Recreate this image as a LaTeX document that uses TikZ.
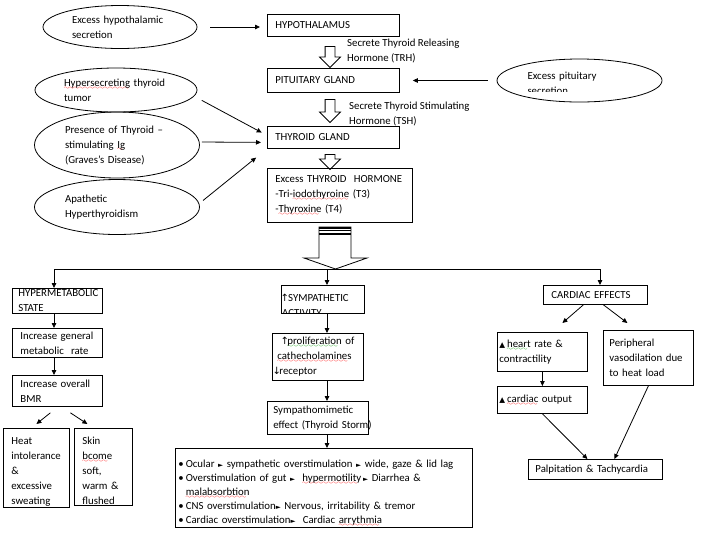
\documentclass[tikz,border=0pt]{standalone}
\usepackage{fontspec}
\setmainfont{Carlito}
\newfontfamily\sym{DejaVu Sans}
\usetikzlibrary{arrows.meta}
\usetikzlibrary{shapes}
\usetikzlibrary{positioning}
\hyphenpenalty=10000
\exhyphenpenalty=10000

% wavy spell-check underline
\font\wavefont=lasy6
\newsavebox\spellbox
\newcommand\spell[2][red]{\leavevmode\sbox\spellbox{#2}\rlap{\textcolor{#1}{\lower2.8pt\hbox to\wd\spellbox{\leaders\hbox{\wavefont\char58}\hfill}}}\usebox\spellbox}
\newcommand\trisym{{\sym\fontsize{7.5}{7.5}\selectfont ▲}}
\newcommand\ptrsym{{\sym\fontsize{6.5}{6.5}\selectfont ►}}
\newcommand\uarr{\makebox[5pt]{\sym\fontsize{10}{10}\selectfont ↑}}
\newcommand\darr{\makebox[5pt]{\sym\fontsize{10}{10}\selectfont ↓}}

\tikzset{
  box/.style={draw, line width=0.8pt, anchor=north west, align=left, inner xsep=8pt, inner ysep=1pt},
  oval/.style={ellipse, draw, line width=0.8pt, inner sep=0pt, align=left, text width=104pt},
  arr/.style={-{Triangle[length=5pt,width=4.5pt]}, line width=0.8pt},
  hollow/.style={single arrow, draw, line width=0.8pt, shape border rotate=270, inner sep=4.5pt, single arrow head extend=5.5pt, minimum height=#1},
}

\begin{document}
\begin{tikzpicture}[x=1pt, y=-1pt, font=\fontsize{10.8}{15}\selectfont]
    \useasboundingbox (0,0) rectangle (703,542);

    % causes
    \node[oval, text width=96pt, minimum width=154pt, minimum height=43pt] (exhyp) at (120,27) {Excess hypothalamic\\secretion};
    \node[oval, minimum width=162pt, minimum height=44pt] (tumor) at (116,90) {\spell{Hypersecreting}~thyroid\\tumor};
    \node[oval, minimum width=165pt, minimum height=66pt] (graves) at (117,145) {Presence~of~Thyroid~–\\stimulating \spell{Ig}\\(Graves’s Disease)};
    \node[oval, minimum width=165pt, minimum height=55pt] (apath) at (117,207) {Apathetic\\Hyperthyroidism};
    \node[oval, minimum width=165pt, minimum height=43pt] (expit) at (579.5,80.5) {};
    \begin{scope}
        \clip (expit.west |- expit.north) rectangle ([yshift=10.5pt]expit.east |- expit.south);
        \node[align=left, text width=104pt, inner sep=0pt] (expittxt) at ([yshift=-3pt]expit.center) {Excess pituitary\\secretion};
    \end{scope}

    % hormone chain
    \node[box, text width=116pt, minimum height=22pt] (hypo) at (267,14) {HYPOTHALAMUS};
    \node[box, text width=116pt, minimum height=24pt] (pit) at (267,68) {PITUITARY GLAND};
    \node[box, text width=116pt, minimum height=22pt] (thy) at (267,126) {THYROID GLAND};
    \node[box, text width=129pt, minimum height=54pt] (hormone) at (267,168) {Excess THYROID~~HORMONE\\-Tri-\spell{iodothyroine} (T3)\\-\spell{Thyroxine} (T4)};

    \node[hollow=21pt] (harr1) at (330,54.5) {};
    \node[hollow=23pt] (harr2) at (330,108.5) {};
    \node[hollow=15pt] (harr3) at (330,159.5) {};
    \node[anchor=west, align=left, inner sep=0pt] (trh) at (347,50.5) {Secrete Thyroid Releasing\\Hormone (TRH)};
    \node[anchor=west, align=left, inner sep=0pt] (tsh) at (349,113.5) {Secrete Thyroid Stimulating\\Hormone (TSH)};

    \draw[arr, shorten <=13pt, shorten >=7pt] (exhyp.east) -- (hypo.west |- exhyp.east);
    \draw[arr, shorten <=9pt, shorten >=13pt] (expit.west) -- (pit.east |- expit.west);
    \draw[arr, shorten <=5pt, shorten >=6pt] ([yshift=-8pt]tumor.east) -- ([yshift=2pt]thy.west);
    \draw[arr, shorten <=2pt, shorten >=6pt] ([yshift=3pt]graves.east) -- ([yshift=-5pt]thy.west);
    \draw[arr, shorten <=4pt, shorten >=14pt] ([yshift=4pt]apath.east) -- (thy.south west);

    % big arrow
    \draw[line width=0.8pt, fill=white] (319,227) -- (351,227) -- (351,258) -- (367,258) -- (335.5,269) -- (304,258) -- (319,258) -- cycle;
    \foreach \y/\w in {227.8/2.2pt, 230.8/1.2pt, 233.7/1.8pt}
        \draw[line width=\w] (319,\y) -- (351,\y);

    \coordinate (bus) at (0,269);
    \coordinate (lcol) at (54,0);
    \coordinate (mcol) at (327,0);
    \coordinate (rcol) at (600,0);
    \draw[line width=0.8pt] (bus -| lcol) -- (bus -| rcol);

    % hypermetabolic state
    \node[box, text width=78pt, inner xsep=6pt, minimum height=25pt] (hms) at (12,288) {HYPERMETABOLIC\\STATE};
    \node[box, text width=74pt, minimum height=29pt] (gen) at (12,328) {Increase~general\\metabolic~~rate};
    \node[box, text width=74pt, minimum height=31pt] (bmr) at (12,375) {Increase~overall\\BMR};
    \node[box, text width=50pt, minimum height=77pt] (heat) at (3,428) {\rule{0pt}{15pt}Heat\\intolerance\\\&\\excessive\\sweating};
    \node[box, text width=42pt, minimum height=77pt] (skin) at (74,428) {\rule{0pt}{15pt}Skin\\\spell{bcome}\\soft,\\warm~\&\\flushed};

    \draw[arr] (bus -| lcol) -- (hms.north -| lcol);
    \draw[arr] (hms.south -| lcol) -- (gen.north -| lcol);
    \draw[arr] (gen.south -| lcol) -- (bmr.north -| lcol);
    \draw[arr] ([xshift=-7pt,yshift=-6pt]bmr.south) -- ([yshift=4pt]heat.north);
    \draw[arr] ([xshift=13pt,yshift=-6pt]bmr.south) -- ([xshift=-16pt,yshift=4pt]skin.north);

    % sympathetic activity
    \node[draw, line width=0.8pt, anchor=north west, minimum width=83pt, minimum height=28pt] (symp) at (281,285) {};
    \begin{scope}
        \clip (symp.north west) rectangle (symp.south east);
        \node[anchor=north west, align=left, inner sep=0pt] (symptxt) at ([xshift=1pt,yshift=-9pt]symp.north west) {\uarr\hspace{1pt}SYMPATHETIC\\ACTIVITY};
    \end{scope}
    \node[box, text width=89pt, inner xsep=1pt, minimum height=47pt] (prolif) at (272,333) {\hspace{9pt}\uarr\spell[green!60!black]{proliferation} of\\\hspace{4pt}\spell{cathecholamines}\\\hspace{1pt}\darr receptor};
    \node[box, text width=89pt, inner xsep=6pt, minimum height=33pt] (mimetic) at (267,401) {Sympathomimetic\\effect~(Thyroid~Storm)};
    \node[box, text width=291pt, inner xsep=3pt, minimum height=77pt, font=\fontsize{10.8}{14}\selectfont] (effects) at (175,448) {%
        \rule{0pt}{18pt}•\hspace{2pt}Ocular \ptrsym\ sympathetic overstimulation \ptrsym\ wide, gaze \& lid lag\\
        •\hspace{2pt}Overstimulation of gut \ptrsym\ \ \spell{hypermotility}\,\ptrsym\ Diarrhea \&\\
        \phantom{•}\hspace{2pt}\spell{malabsorbtion}\\
        •\hspace{2pt}CNS overstimulation\ptrsym\ Nervous, irritability \& tremor\\
        •\hspace{2pt}Cardiac overstimulation\ptrsym\ \ Cardiac \spell{arrythmia}};

    \draw[arr] (bus -| mcol) -- (symp.north -| mcol);
    \draw[arr] (symp.south -| mcol) -- (prolif.north -| mcol);
    \draw[arr] (prolif.south -| mcol) -- (mimetic.north -| mcol);
    \draw[arr] (mimetic.south -| mcol) -- (effects.north -| mcol);

    % cardiac effects
    \node[box, text width=88pt, minimum height=19pt] (card) at (543,285) {CARDIAC EFFECTS};
    \node[box, text width=86pt, inner xsep=2pt, minimum height=39pt] (heart) at (497,332) {\trisym\hspace{2pt}\spell[green!60!black]{heart} rate \&\\contractility};
    \node[box, text width=78pt, inner xsep=6pt, minimum height=55pt] (periph) at (603,330) {Peripheral\\vasodilation~due\\to heat load};
    \node[box, text width=86pt, inner xsep=2pt, minimum height=27pt] (output) at (497,386) {\trisym\hspace{2pt}\spell{cardiac} output};
    \node[box, text width=120pt, inner xsep=7pt, minimum height=20pt] (palp) at (528,459) {Palpitation \& Tachycardia};

    \draw[arr] (bus -| rcol) -- (card.north -| rcol);
    \draw[arr] ([xshift=-12pt]card.south) -- ([xshift=20pt,yshift=9pt]heart.north);
    \draw[arr] ([xshift=8pt]card.south) -- ([xshift=-21pt,yshift=7pt]periph.north);
    \draw[arr] (heart.south) -- (output.north);
    \draw[arr] (output.south) -- ([xshift=-8pt]palp.north);
    \draw[arr] (periph.south) -- ([xshift=19pt]palp.north);
\end{tikzpicture}
\end{document}
